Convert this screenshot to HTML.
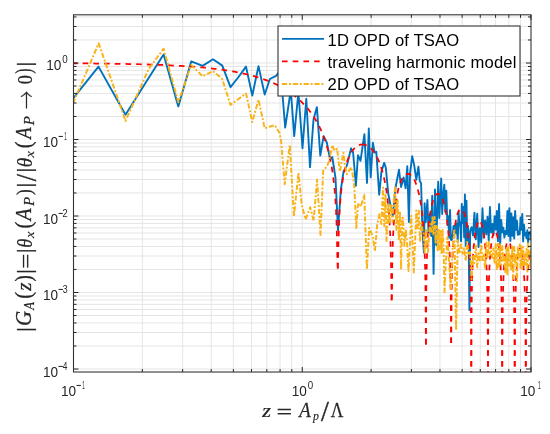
<!DOCTYPE html>
<html><head><meta charset="utf-8"><style>
html,body{margin:0;padding:0;background:#fff;}
svg{display:block;}
.tk{font-family:"Liberation Sans",Arial,sans-serif;font-size:14px;fill:#262626;}
.sp{font-size:10px;}
.lx{font-family:"Liberation Serif","Times New Roman",serif;font-size:20px;fill:#262626;stroke:#262626;stroke-width:0.25px;}
.ar{font-family:"Noto Serif CJK SC",serif;}
.lg{font-family:"Liberation Sans",Arial,sans-serif;font-size:16.6px;letter-spacing:0.15px;fill:#000;}
</style></head><body>
<svg width="550" height="434" viewBox="0 0 550 434">
<defs><clipPath id="c"><rect x="73.5" y="14.8" width="457.5" height="357.2"/></clipPath></defs>
<rect width="550" height="434" fill="#fff"/>
<path d="M142.36 14.8V372M182.64 14.8V372M211.22 14.8V372M233.39 14.8V372M251.5 14.8V372M266.82 14.8V372M280.08 14.8V372M291.78 14.8V372M302.25 14.8V372M371.11 14.8V372M411.39 14.8V372M439.97 14.8V372M462.14 14.8V372M480.25 14.8V372M495.57 14.8V372M508.83 14.8V372M520.53 14.8V372M73.5 369H531M73.5 345.97H531M73.5 332.5H531M73.5 322.94H531M73.5 315.53H531M73.5 309.47H531M73.5 304.35H531M73.5 299.91H531M73.5 296H531M73.5 292.5H531M73.5 269.47H531M73.5 256H531M73.5 246.44H531M73.5 239.03H531M73.5 232.97H531M73.5 227.85H531M73.5 223.41H531M73.5 219.5H531M73.5 216H531M73.5 192.97H531M73.5 179.5H531M73.5 169.94H531M73.5 162.53H531M73.5 156.47H531M73.5 151.35H531M73.5 146.91H531M73.5 143H531M73.5 139.5H531M73.5 116.47H531M73.5 103H531M73.5 93.44H531M73.5 86.03H531M73.5 79.97H531M73.5 74.85H531M73.5 70.41H531M73.5 66.5H531M73.5 63H531M73.5 39.97H531M73.5 26.5H531M73.5 16.94H531" stroke="#e5e5e5" stroke-width="1" fill="none"/>
<g clip-path="url(#c)" fill="none" stroke-linejoin="round">
<path d="M60.3 114.3 L73.5 97.8 L98.5 66.6 L125.5 114.7 L146.1 82 L163.6 54.5 L178.3 106.4 L191.2 61.4 L202.6 65.9 L213 59.3 L222.3 65.6 L230.5 87.2 L238.5 77 L246 66.6 L252.3 95.5 L258.5 66.1 L264.7 94.5 L269.9 79 L276.1 75.9 L280.5 70 L285.2 127.6 L290.8 90 L294.2 136.1 L298.4 92 L302.5 148.3 L306.3 98.8 L310 167.1 L313.5 119.6 L316.9 107.1 L320.3 155.6 L323.6 136.2 L326.8 142.5 L330.2 159.8 L332.3 157 L335.5 178 L338 230.3 L340.8 190 L343.5 171.8 L346.9 165.6 L351.1 148.3 L353.1 152.5 L355.9 185.7 L358 155.2 L360.5 160.8 L364.4 134.1 L367 182.9 L368.8 128.5 L370.7 177.4 L372.9 142.8 L374.6 152.5 L376.3 151.8 L379.2 194.7 L381.4 171.8 L384.2 162.8 L385.8 167.7 L388.3 194 L390.5 205 L392.8 215.8 L395.5 187.8 L399 169.8 L401.1 187 L403.6 177.4 L405.6 188.4 L407.3 166.3 L408.9 222 L410.1 172.8 L412.2 156.2 L414.2 165.2 L416.3 179.8 L418.4 166.6 L419.8 181.1 L421.1 183.2 L422.3 228 L423.9 252.6 L424.6 203.3 L425.8 222 L427.4 200 L428.6 234 L430 213.8 L431.2 236 L432.2 195.7 L433.6 273.9 L435 189.4 L436.2 245 L438.2 181.8 L439.3 218 L440.2 200 L441.2 178.4 L442.2 214 L443.2 195 L444.3 184.6 L445.3 212 L446.3 190.8 L447.4 225 L448.22 216.28 L449.13 237.73 L450.02 210.06 L450.91 239.73 L451.79 240 L452.67 235.14 L453.53 225.89 L454.39 232.01 L455.24 225.12 L456.09 233.44 L456.92 223.28 L457.75 242.15 L458.58 211.42 L459.39 225.34 L460.2 222.39 L461 241.31 L461.8 203.86 L462.59 223.01 L463.37 206.91 L464.15 237.31 L464.92 194.48 L465.69 245.9 L466.45 200.6 L467.2 240.54 L467.95 225.66 L468.69 244.53 L469.43 310 L470.16 230.96 L471.61 227.13 L473.04 235.56 L474.45 212.66 L475.83 239.29 L477.2 213.76 L478.55 247 L479.88 228.28 L481.2 242.49 L482.49 208.32 L483.77 237.69 L485.04 220.45 L486.28 234.49 L487.52 216.69 L488.73 240.71 L489.94 207 L491.12 232.61 L492.3 223.95 L493.46 235.39 L494.61 216.24 L495.74 229.64 L496.86 210.83 L497.97 241.33 L499.07 203.97 L500.15 244.69 L501.22 220.07 L502.28 232.29 L503.33 227.69 L504.37 237.56 L505.4 230.95 L506.42 234.19 L507.43 211.02 L508.42 236.08 L509.41 208.2 L510.39 241.06 L511.36 213.43 L512.32 235.83 L513.27 217.1 L514.21 238.44 L515.14 210.88 L516.06 229.8 L516.98 220.83 L517.88 234.9 L518.78 231.51 L519.67 234.39 L520.55 217.52 L521.43 229.69 L522.29 213.91 L523.15 241.37 L524 224.65 L524.85 235.19 L525.69 233.06 L526.52 238.28 L527.34 230.13 L528.16 243.05 L528.97 232.56 L529.77 233.91 L530.57 231.36 L531.36 240.77" stroke="#0072BD" stroke-width="1.9"/>
<path d="M337.8 268.4 L337.44 262.98 L336.74 227.29 L336.03 210.13 L335.32 198.61 L334.61 189.89 L333.89 182.83 L333.16 176.88 L332.43 171.73 L331.7 167.17 L330.95 163.08 L330.21 159.36 L329.45 155.95 L328.7 152.8 L327.93 149.86 L327.16 147.12 L326.39 144.53 L325.6 142.09 L324.81 139.78 L324.02 137.58 L323.22 135.49 L322.41 133.49 L321.6 131.57 L320.78 129.73 L319.95 127.96 L319.11 126.25 L318.27 124.61 L317.42 123.02 L316.57 121.48 L315.7 120 L314.83 118.56 L313.95 117.16 L313.06 115.81 L312.17 114.49 L311.27 113.21 L310.35 111.96 L309.43 110.75 L308.51 109.57 L307.57 108.42 L306.62 107.29 L305.67 106.2 L304.7 105.13 L303.73 104.09 L302.75 103.07 L301.75 102.07 L300.75 101.09 L299.73 100.14 L298.71 99.21 L297.68 98.3 L296.63 97.41 L295.57 96.53 L294.5 95.68 L293.43 94.84 L292.33 94.02 L291.23 93.22 L290.11 92.43 L288.98 91.66 L287.84 90.9 L286.69 90.16 L285.52 89.44 L284.34 88.72 L283.14 88.03 L281.93 87.34 L280.7 86.67 L279.46 86.01 L278.2 85.37 L276.93 84.74 L275.64 84.12 L274.33 83.51 L273.01 82.91 L271.66 82.33 L270.3 81.76 L268.92 81.19 L267.52 80.64 L266.1 80.1 L264.66 79.57 L263.2 79.05 L261.72 78.54 L260.22 78.05 L258.69 77.56 L257.13 77.08 L255.56 76.61 L253.96 76.15 L252.33 75.7 L250.67 75.26 L248.99 74.82 L247.27 74.4 L245.53 73.99 L243.76 73.58 L241.95 73.19 L240.11 72.8 L238.24 72.42 L236.33 72.05 L234.38 71.69 L232.39 71.33 L230.36 70.99 L228.29 70.65 L226.18 70.32 L224.02 70 L221.81 69.69 L219.55 69.38 L217.24 69.08 L214.88 68.79 L212.46 68.51 L209.97 68.23 L207.42 67.97 L204.81 67.71 L202.12 67.45 L199.36 67.21 L196.53 66.97 L193.6 66.74 L190.59 66.52 L187.49 66.3 L184.28 66.09 L180.97 65.89 L177.55 65.69 L174 65.51 L170.32 65.33 L166.5 65.15 L162.52 64.99 L158.38 64.83 L154.06 64.67 L149.55 64.53 L144.81 64.39 L139.85 64.25 L134.62 64.13 L129.09 64.01 L123.25 63.9 L117.04 63.79 L110.41 63.69 L103.31 63.6 L95.67 63.51 L87.38 63.43 L78.35 63.36 L68.4 63.3 L57.35 63.24 L44.92 63.18 L30.7 63.14 L14.11 63.1 L-5.83 63.07 L-30.79 63.04 L-64.22 63.02 L-114.97 63.01 L-224.11 63" stroke="#FF0000" stroke-width="1.75" stroke-dasharray="5.6 5.1"/>
<path d="M337.8 268.4 L338.82 230 L339.5 213.24 L340.19 202.43 L340.86 194.51 L341.53 188.3 L342.2 183.23 L342.86 178.96 L343.52 175.31 L344.17 172.13 L344.82 169.33 L345.47 166.84 L346.11 164.61 L346.75 162.61 L347.38 160.79 L348.01 159.14 L348.63 157.64 L349.25 156.27 L349.87 155.02 L350.48 153.87 L351.09 152.82 L351.7 151.86 L352.3 150.98 L352.9 150.17 L353.49 149.43 L354.08 148.76 L354.67 148.14 L355.26 147.59 L355.84 147.09 L356.42 146.63 L356.99 146.23 L357.56 145.87 L358.13 145.56 L358.69 145.29 L359.25 145.06 L359.81 144.86 L360.37 144.71 L360.92 144.59 L361.47 144.51 L362.01 144.46 L362.56 144.44" stroke="#FF0000" stroke-width="1.75" stroke-dasharray="5.6 5.1"/>
<path d="M391.64 300.2 L391.07 265.99 L390.66 247.85 L390.25 236.05 L389.84 227.25 L389.43 220.23 L389.02 214.37 L388.6 209.35 L388.18 204.94 L387.76 201.02 L387.34 197.48 L386.92 194.27 L386.5 191.32 L386.07 188.59 L385.64 186.06 L385.21 183.71 L384.78 181.5 L384.35 179.42 L383.91 177.47 L383.47 175.62 L383.03 173.87 L382.59 172.21 L382.15 170.64 L381.7 169.14 L381.25 167.71 L380.8 166.34 L380.35 165.04 L379.9 163.8 L379.44 162.61 L378.99 161.48 L378.53 160.39 L378.06 159.35 L377.6 158.36 L377.13 157.41 L376.66 156.5 L376.19 155.63 L375.72 154.8 L375.25 154 L374.77 153.25 L374.29 152.52 L373.81 151.83 L373.32 151.18 L372.83 150.55 L372.34 149.96 L371.85 149.4 L371.36 148.87 L370.86 148.38 L370.36 147.91 L369.86 147.47 L369.36 147.06 L368.85 146.68 L368.34 146.33 L367.83 146.01 L367.31 145.72 L366.8 145.46 L366.28 145.22 L365.75 145.02 L365.23 144.85 L364.7 144.71 L364.17 144.59 L363.63 144.51 L363.1 144.46 L362.56 144.44" stroke="#FF0000" stroke-width="1.75" stroke-dasharray="5.6 5.1"/>
<path d="M391.64 300.2 L391.88 294.86 L392.28 262.47 L392.68 246.61 L393.08 236.09 L393.48 228.25 L393.87 222.03 L394.27 216.9 L394.66 212.55 L395.05 208.79 L395.44 205.49 L395.83 202.57 L396.22 199.95 L396.6 197.59 L396.98 195.45 L397.37 193.49 L397.75 191.71 L398.13 190.07 L398.5 188.57 L398.88 187.18 L399.25 185.9 L399.63 184.71 L400 183.62 L400.37 182.6 L400.74 181.66 L401.11 180.8 L401.47 180 L401.84 179.26 L402.2 178.58 L402.57 177.95 L402.93 177.38 L403.29 176.85 L403.65 176.38 L404 175.95 L404.36 175.56 L404.71 175.22 L405.07 174.91 L405.42 174.65 L405.77 174.42 L406.12 174.23 L406.47 174.08 L406.82 173.96 L407.16 173.88 L407.51 173.83 L407.85 173.81" stroke="#FF0000" stroke-width="1.75" stroke-dasharray="5.6 5.1"/>
<path d="M425.88 344.4 L425.71 317.84 L425.42 284.68 L425.13 268.29 L424.84 257.28 L424.55 248.97 L424.26 242.28 L423.97 236.68 L423.68 231.87 L423.39 227.64 L423.09 223.89 L422.8 220.5 L422.5 217.43 L422.21 214.61 L421.91 212.01 L421.61 209.61 L421.31 207.37 L421.01 205.28 L420.71 203.32 L420.41 201.48 L420.1 199.75 L419.8 198.11 L419.5 196.56 L419.19 195.1 L418.88 193.71 L418.58 192.4 L418.27 191.14 L417.96 189.96 L417.65 188.83 L417.34 187.75 L417.02 186.73 L416.71 185.76 L416.4 184.84 L416.08 183.96 L415.76 183.13 L415.45 182.34 L415.13 181.59 L414.81 180.88 L414.49 180.21 L414.17 179.57 L413.84 178.97 L413.52 178.41 L413.2 177.88 L412.87 177.38 L412.54 176.92 L412.22 176.49 L411.89 176.1 L411.56 175.73 L411.23 175.4 L410.89 175.1 L410.56 174.83 L410.23 174.59 L409.89 174.39 L409.55 174.21 L409.22 174.07 L408.88 173.96 L408.54 173.87 L408.19 173.83 L407.85 173.81" stroke="#FF0000" stroke-width="1.75" stroke-dasharray="5.6 5.1"/>
<path d="M425.88 344.4 L426.28 289.2 L426.56 271.61 L426.85 260.31 L427.13 252 L427.41 245.45 L427.69 240.07 L427.97 235.51 L428.25 231.58 L428.53 228.13 L428.81 225.07 L429.09 222.33 L429.37 219.85 L429.64 217.6 L429.92 215.55 L430.19 213.66 L430.47 211.93 L430.74 210.33 L431.01 208.86 L431.28 207.49 L431.55 206.22 L431.82 205.05 L432.09 203.95 L432.36 202.94 L432.63 201.99 L432.9 201.12 L433.16 200.31 L433.43 199.55 L433.69 198.86 L433.96 198.21 L434.22 197.62 L434.48 197.08 L434.74 196.58 L435.01 196.13 L435.27 195.72 L435.53 195.35 L435.79 195.02 L436.05 194.73 L436.3 194.48 L436.56 194.27 L436.82 194.09 L437.07 193.95 L437.33 193.84 L437.58 193.76 L437.84 193.72 L438.09 193.71" stroke="#FF0000" stroke-width="1.75" stroke-dasharray="5.6 5.1"/>
<path d="M451.17 343 L450.9 309.88 L450.67 290.11 L450.45 277.73 L450.23 268.69 L450 261.56 L449.78 255.67 L449.55 250.65 L449.33 246.28 L449.1 242.42 L448.87 238.96 L448.65 235.83 L448.42 232.98 L448.19 230.36 L447.96 227.93 L447.73 225.69 L447.5 223.6 L447.27 221.64 L447.04 219.81 L446.81 218.09 L446.58 216.47 L446.34 214.94 L446.11 213.5 L445.88 212.14 L445.64 210.85 L445.41 209.63 L445.17 208.47 L444.94 207.37 L444.7 206.33 L444.46 205.35 L444.23 204.41 L443.99 203.53 L443.75 202.69 L443.51 201.89 L443.27 201.14 L443.03 200.43 L442.79 199.77 L442.55 199.14 L442.3 198.55 L442.06 197.99 L441.82 197.47 L441.57 196.99 L441.33 196.54 L441.08 196.13 L440.84 195.75 L440.59 195.4 L440.34 195.09 L440.1 194.81 L439.85 194.56 L439.6 194.34 L439.35 194.16 L439.1 194 L438.85 193.88 L438.6 193.79 L438.34 193.74 L438.09 193.71" stroke="#FF0000" stroke-width="1.75" stroke-dasharray="5.6 5.1"/>
<path d="M451.17 343 L451.34 326.49 L451.56 298.73 L451.78 283.95 L452 273.86 L452.22 266.22 L452.44 260.08 L452.66 254.98 L452.88 250.62 L453.1 246.83 L453.31 243.48 L453.53 240.5 L453.75 237.81 L453.96 235.38 L454.18 233.16 L454.39 231.13 L454.61 229.27 L454.82 227.54 L455.04 225.95 L455.25 224.48 L455.46 223.11 L455.67 221.83 L455.89 220.65 L456.1 219.55 L456.31 218.52 L456.52 217.57 L456.73 216.68 L456.94 215.85 L457.15 215.08 L457.36 214.37 L457.57 213.71 L457.77 213.1 L457.98 212.54 L458.19 212.02 L458.39 211.55 L458.6 211.12 L458.81 210.73 L459.01 210.38 L459.22 210.07 L459.42 209.8 L459.62 209.57 L459.83 209.37 L460.03 209.21 L460.23 209.08 L460.44 208.98 L460.64 208.92 L460.84 208.89" stroke="#FF0000" stroke-width="1.75" stroke-dasharray="5.6 5.1"/>
<path d="M471.27 420 L471.16 344.69 L470.97 313.74 L470.79 297.93 L470.61 287.22 L470.43 279.1 L470.24 272.57 L470.06 267.11 L469.88 262.41 L469.69 258.29 L469.51 254.64 L469.32 251.35 L469.14 248.37 L468.95 245.64 L468.77 243.14 L468.58 240.82 L468.4 238.67 L468.21 236.66 L468.02 234.79 L467.83 233.04 L467.65 231.39 L467.46 229.84 L467.27 228.38 L467.08 227 L466.89 225.7 L466.7 224.47 L466.51 223.31 L466.32 222.21 L466.13 221.16 L465.94 220.18 L465.75 219.25 L465.56 218.37 L465.36 217.53 L465.17 216.74 L464.98 216 L464.79 215.3 L464.59 214.64 L464.4 214.03 L464.2 213.45 L464.01 212.9 L463.81 212.4 L463.62 211.93 L463.42 211.5 L463.23 211.1 L463.03 210.73 L462.83 210.4 L462.63 210.11 L462.44 209.84 L462.24 209.61 L462.04 209.41 L461.84 209.24 L461.64 209.11 L461.44 209.01 L461.24 208.94 L461.04 208.9 L460.84 208.89" stroke="#FF0000" stroke-width="1.75" stroke-dasharray="5.6 5.1"/>
<path d="M471.27 420 L471.52 320.93 L471.7 302.62 L471.88 290.98 L472.06 282.45 L472.24 275.74 L472.42 270.23 L472.6 265.56 L472.78 261.53 L472.95 257.99 L473.13 254.83 L473.31 252.01 L473.49 249.45 L473.66 247.12 L473.84 244.99 L474.02 243.03 L474.19 241.23 L474.37 239.56 L474.54 238.01 L474.72 236.58 L474.89 235.24 L475.07 234 L475.24 232.84 L475.42 231.76 L475.59 230.75 L475.76 229.81 L475.94 228.93 L476.11 228.12 L476.28 227.36 L476.46 226.65 L476.63 226 L476.8 225.4 L476.97 224.84 L477.14 224.33 L477.31 223.86 L477.48 223.43 L477.65 223.04 L477.82 222.7 L477.99 222.39 L478.16 222.12 L478.33 221.88 L478.5 221.68 L478.67 221.52 L478.83 221.39 L479 221.29 L479.17 221.23 L479.34 221.2" stroke="#FF0000" stroke-width="1.75" stroke-dasharray="5.6 5.1"/>
<path d="M487.97 420 L487.82 343.8 L487.67 319.61 L487.51 305.72 L487.36 295.92 L487.21 288.35 L487.05 282.18 L486.9 276.98 L486.74 272.48 L486.59 268.53 L486.43 265 L486.27 261.83 L486.12 258.94 L485.96 256.3 L485.81 253.87 L485.65 251.63 L485.49 249.54 L485.34 247.6 L485.18 245.78 L485.02 244.08 L484.86 242.48 L484.7 240.97 L484.55 239.56 L484.39 238.22 L484.23 236.96 L484.07 235.77 L483.91 234.65 L483.75 233.59 L483.59 232.59 L483.43 231.64 L483.27 230.74 L483.11 229.89 L482.95 229.1 L482.79 228.34 L482.62 227.64 L482.46 226.97 L482.3 226.34 L482.14 225.76 L481.98 225.21 L481.81 224.71 L481.65 224.23 L481.49 223.8 L481.32 223.4 L481.16 223.03 L480.99 222.7 L480.83 222.4 L480.67 222.14 L480.5 221.91 L480.33 221.71 L480.17 221.54 L480 221.41 L479.84 221.31 L479.67 221.24 L479.5 221.2 L479.34 221.2" stroke="#FF0000" stroke-width="1.75" stroke-dasharray="5.6 5.1"/>
<path d="M487.97 420 L488.13 339.93 L488.28 317.99 L488.43 304.98 L488.59 295.73 L488.74 288.57 L488.89 282.74 L489.04 277.84 L489.19 273.62 L489.34 269.93 L489.49 266.66 L489.65 263.73 L489.8 261.08 L489.95 258.67 L490.1 256.47 L490.25 254.45 L490.4 252.59 L490.55 250.86 L490.69 249.27 L490.84 247.78 L490.99 246.4 L491.14 245.11 L491.29 243.91 L491.44 242.79 L491.58 241.75 L491.73 240.77 L491.88 239.86 L492.03 239.01 L492.17 238.22 L492.32 237.49 L492.47 236.8 L492.61 236.17 L492.76 235.58 L492.91 235.04 L493.05 234.54 L493.2 234.09 L493.34 233.67 L493.49 233.3 L493.63 232.96 L493.78 232.67 L493.92 232.41 L494.06 232.18 L494.21 231.99 L494.35 231.84 L494.5 231.71 L494.64 231.63 L494.78 231.57 L494.93 231.55" stroke="#FF0000" stroke-width="1.75" stroke-dasharray="5.6 5.1"/>
<path d="M502.24 420 L502.09 346.66 L501.96 325.77 L501.82 313.01 L501.69 303.79 L501.56 296.58 L501.42 290.65 L501.29 285.63 L501.15 281.27 L501.02 277.43 L500.89 274 L500.75 270.9 L500.62 268.08 L500.48 265.5 L500.35 263.13 L500.21 260.93 L500.07 258.89 L499.94 256.99 L499.8 255.21 L499.67 253.54 L499.53 251.98 L499.39 250.51 L499.26 249.13 L499.12 247.83 L498.98 246.6 L498.85 245.44 L498.71 244.34 L498.57 243.31 L498.43 242.33 L498.3 241.41 L498.16 240.54 L498.02 239.72 L497.88 238.94 L497.74 238.22 L497.6 237.53 L497.46 236.89 L497.32 236.29 L497.19 235.73 L497.05 235.21 L496.91 234.72 L496.77 234.28 L496.62 233.86 L496.48 233.49 L496.34 233.15 L496.2 232.84 L496.06 232.56 L495.92 232.32 L495.78 232.11 L495.64 231.94 L495.5 231.8 L495.35 231.69 L495.21 231.61 L495.07 231.57 L494.93 231.55" stroke="#FF0000" stroke-width="1.75" stroke-dasharray="5.6 5.1"/>
<path d="M502.24 420 L502.35 356.71 L502.49 331.02 L502.62 316.8 L502.75 306.94 L502.88 299.41 L503.01 293.33 L503.15 288.25 L503.28 283.89 L503.41 280.08 L503.54 276.72 L503.67 273.71 L503.8 270.99 L503.93 268.52 L504.06 266.27 L504.19 264.2 L504.32 262.29 L504.45 260.53 L504.58 258.89 L504.71 257.37 L504.84 255.96 L504.97 254.64 L505.1 253.41 L505.23 252.26 L505.36 251.19 L505.49 250.19 L505.61 249.25 L505.74 248.37 L505.87 247.56 L506 246.8 L506.13 246.09 L506.25 245.44 L506.38 244.83 L506.51 244.26 L506.63 243.75 L506.76 243.27 L506.89 242.84 L507.01 242.44 L507.14 242.09 L507.27 241.77 L507.39 241.49 L507.52 241.24 L507.65 241.04 L507.77 240.86 L507.9 240.72 L508.02 240.62 L508.15 240.55 L508.27 240.51 L508.4 240.5" stroke="#FF0000" stroke-width="1.75" stroke-dasharray="5.6 5.1"/>
<path d="M514.71 420 L514.56 350.68 L514.44 331.74 L514.33 319.73 L514.21 310.91 L514.09 303.95 L513.97 298.2 L513.86 293.3 L513.74 289.05 L513.62 285.29 L513.5 281.93 L513.38 278.89 L513.26 276.13 L513.15 273.59 L513.03 271.26 L512.91 269.1 L512.79 267.09 L512.67 265.22 L512.55 263.47 L512.43 261.83 L512.31 260.3 L512.19 258.85 L512.07 257.5 L511.95 256.22 L511.83 255.01 L511.71 253.87 L511.59 252.8 L511.47 251.78 L511.35 250.83 L511.22 249.93 L511.1 249.07 L510.98 248.27 L510.86 247.52 L510.74 246.81 L510.62 246.15 L510.49 245.52 L510.37 244.94 L510.25 244.4 L510.13 243.89 L510 243.43 L509.88 243 L509.76 242.6 L509.64 242.24 L509.51 241.92 L509.39 241.63 L509.27 241.37 L509.14 241.15 L509.02 240.96 L508.89 240.8 L508.77 240.68 L508.65 240.59 L508.52 240.53 L508.4 240.5" stroke="#FF0000" stroke-width="1.75" stroke-dasharray="5.6 5.1"/>
<path d="M514.71 420 L514.8 371.9 L514.91 342.32 L515.03 327 L515.15 316.62 L515.26 308.78 L515.38 302.5 L515.5 297.27 L515.61 292.8 L515.73 288.91 L515.84 285.47 L515.96 282.39 L516.07 279.62 L516.19 277.11 L516.3 274.81 L516.42 272.7 L516.53 270.76 L516.65 268.97 L516.76 267.3 L516.88 265.75 L516.99 264.31 L517.11 262.97 L517.22 261.72 L517.34 260.55 L517.45 259.45 L517.56 258.43 L517.68 257.47 L517.79 256.58 L517.9 255.75 L518.02 254.97 L518.13 254.24 L518.24 253.57 L518.36 252.94 L518.47 252.36 L518.58 251.83 L518.69 251.34 L518.81 250.89 L518.92 250.48 L519.03 250.11 L519.14 249.77 L519.26 249.48 L519.37 249.22 L519.48 249 L519.59 248.81 L519.7 248.65 L519.81 248.53 L519.92 248.45 L520.04 248.4 L520.15 248.38" stroke="#FF0000" stroke-width="1.75" stroke-dasharray="5.6 5.1"/>
<path d="M525.79 420 L525.64 355.03 L525.54 337.39 L525.43 325.92 L525.33 317.39 L525.22 310.62 L525.12 305 L525.01 300.2 L524.91 296.03 L524.8 292.33 L524.69 289.02 L524.59 286.03 L524.48 283.3 L524.38 280.81 L524.27 278.5 L524.16 276.37 L524.06 274.39 L523.95 272.55 L523.84 270.82 L523.74 269.21 L523.63 267.69 L523.52 266.27 L523.42 264.93 L523.31 263.66 L523.2 262.48 L523.09 261.36 L522.99 260.3 L522.88 259.3 L522.77 258.36 L522.66 257.47 L522.55 256.64 L522.45 255.85 L522.34 255.11 L522.23 254.42 L522.12 253.77 L522.01 253.16 L521.9 252.59 L521.79 252.07 L521.69 251.58 L521.58 251.12 L521.47 250.71 L521.36 250.33 L521.25 249.98 L521.14 249.67 L521.03 249.39 L520.92 249.15 L520.81 248.94 L520.7 248.77 L520.59 248.62 L520.48 248.51 L520.37 248.43 L520.26 248.39 L520.15 248.38" stroke="#FF0000" stroke-width="1.75" stroke-dasharray="5.6 5.1"/>
<path d="M525.79 420 L525.85 385.94 L525.96 352.26 L526.06 335.96 L526.17 325.13 L526.27 317.04 L526.37 310.58 L526.48 305.23 L526.58 300.67 L526.69 296.7 L526.79 293.2 L526.89 290.08 L527 287.27 L527.1 284.72 L527.2 282.39 L527.31 280.25 L527.41 278.28 L527.51 276.46 L527.61 274.77 L527.72 273.2 L527.82 271.74 L527.92 270.37 L528.03 269.1 L528.13 267.91 L528.23 266.8 L528.33 265.76 L528.43 264.79 L528.54 263.88 L528.64 263.03 L528.74 262.24 L528.84 261.5 L528.94 260.81 L529.04 260.17 L529.14 259.58 L529.25 259.03 L529.35 258.53 L529.45 258.07 L529.55 257.65 L529.65 257.26 L529.75 256.92 L529.85 256.61 L529.95 256.34 L530.05 256.11 L530.15 255.91 L530.25 255.74 L530.35 255.61 L530.45 255.51 L530.55 255.45 L530.65 255.42" stroke="#FF0000" stroke-width="1.75" stroke-dasharray="5.6 5.1"/>
<path d="M530.65 255.42 L530.75 255.42 L530.85 255.45 L530.95 255.52 L531.05 255.62 L531.15 255.75" stroke="#FF0000" stroke-width="1.75" stroke-dasharray="5.6 5.1"/>
<path d="M60.3 133.2 L73.5 102.3 L98.7 43.3 L125.5 121 L148.7 69 L163.6 48.7 L178.3 102.2 L191.2 64.9 L202.6 76.3 L213 71.1 L222.2 79 L230.5 104.9 L238.5 99 L246 93.5 L252.3 122 L258.5 99.7 L264.7 128.3 L270 126.5 L274.8 125.2 L279.4 132.7 L281.1 140.7 L284.7 184.2 L289.8 144.8 L293.9 216.5 L298.5 172.7 L301.7 205 L305.6 219.5 L310.2 207.2 L313.6 220.5 L317.1 179.6 L320.5 235 L323.2 170.3 L326.8 166.7 L328.8 161.8 L332.3 145.2 L334.4 150.8 L337.1 148.7 L339.9 171.5 L343.4 152.8 L344.8 164.6 L346.8 174.3 L351.2 167.2 L353.1 177 L354.4 188 L356.3 228 L358 204.6 L359.4 203.2 L360.8 206.7 L364.2 194.9 L366.9 269.5 L369.2 228 L372.6 236.1 L374.9 251.1 L377.2 224.6 L379.4 214.3 L380.5 220 L381.4 224 L383 187.5 L384.2 226 L385.5 195 L386.5 241 L388.2 203 L389.5 224 L391 205 L392.5 222 L393.8 200 L395.1 187.5 L396.4 230 L397.6 200 L398.8 240 L400 211.6 L401.1 269.7 L402.2 218 L402.92 217.99 L404.34 245.96 L405.75 229.68 L407.13 245.02 L408.5 271 L409.84 246.04 L411.17 215.84 L412.49 240.19 L413.78 272.5 L415.06 242.67 L416.32 210.53 L417.57 228.37 L418.8 210.6 L420.01 241.82 L421.21 223.07 L422.4 230.26 L423.57 231.22 L424.73 253.76 L425.88 228.61 L427.01 246.19 L428.13 252 L429.24 232 L430.33 223.96 L431.41 231.84 L432.49 217.33 L433.55 235.78 L434.59 216.95 L435.63 242.55 L436.66 225.89 L437.68 251.82 L438.68 229.68 L439.68 249.09 L440.66 231.04 L441.64 253.05 L442.61 229.88 L443.57 246.69 L444.51 292.2 L445.45 270.05 L447.31 237.11 L449.13 262.6 L450.91 289 L452.67 248.09 L454.39 228.81 L456.09 330.1 L457.75 240.34 L459.39 253.65 L461 244.44 L462.59 253.89 L464.15 248.37 L465.69 260.85 L467.2 241.89 L468.69 255.07 L470.16 252.22 L471.61 279 L473.04 254.97 L474.45 263.01 L475.83 245.58 L477.2 267.39 L478.55 253.22 L479.88 260.58 L481.2 244.02 L482.49 261.39 L483.77 254.39 L485.04 269.3 L486.28 242.78 L487.52 259 L488.73 241.78 L489.94 254.83 L491.12 251.12 L492.3 257.76 L493.46 248.48 L494.61 263.75 L495.74 244.09 L496.86 269.98 L497.97 243.88 L499.07 268.67 L500.15 244.26 L501.22 264.69 L502.28 246.1 L503.33 262.16 L504.37 256.67 L505.4 273.2 L506.42 248.06 L507.43 275.29 L508.42 246.85 L509.41 265.71 L510.39 255.74 L511.36 271.16 L512.32 245.4 L513.27 278.84 L514.21 247.01 L515.14 263.72 L516.06 255.05 L516.98 281 L517.88 247.99 L518.78 259.25 L519.67 244.51 L520.55 269.21 L521.43 246.11 L522.29 268.72 L523.15 247.33 L524 264.84 L524.85 254.71 L525.69 264.65 L526.52 248.93 L527.34 271.44 L528.16 243.21 L528.97 256.63 L529.77 252.11 L530.57 268.73 L531.36 243.19" stroke="#F9B318" stroke-width="1.95" stroke-dasharray="5.2 1.8 2 1.8"/>
</g>
<path d="M73.5 372v-5M73.5 14.8v5M142.36 372v-3M142.36 14.8v3M182.64 372v-3M182.64 14.8v3M211.22 372v-3M211.22 14.8v3M233.39 372v-3M233.39 14.8v3M251.5 372v-3M251.5 14.8v3M266.82 372v-3M266.82 14.8v3M280.08 372v-3M280.08 14.8v3M291.78 372v-3M291.78 14.8v3M302.25 372v-5M302.25 14.8v5M371.11 372v-3M371.11 14.8v3M411.39 372v-3M411.39 14.8v3M439.97 372v-3M439.97 14.8v3M462.14 372v-3M462.14 14.8v3M480.25 372v-3M480.25 14.8v3M495.57 372v-3M495.57 14.8v3M508.83 372v-3M508.83 14.8v3M520.53 372v-3M520.53 14.8v3M531 372v-5M531 14.8v5M73.5 369h5M531 369h-5M73.5 345.97h3M531 345.97h-3M73.5 332.5h3M531 332.5h-3M73.5 322.94h3M531 322.94h-3M73.5 315.53h3M531 315.53h-3M73.5 309.47h3M531 309.47h-3M73.5 304.35h3M531 304.35h-3M73.5 299.91h3M531 299.91h-3M73.5 296h3M531 296h-3M73.5 292.5h5M531 292.5h-5M73.5 269.47h3M531 269.47h-3M73.5 256h3M531 256h-3M73.5 246.44h3M531 246.44h-3M73.5 239.03h3M531 239.03h-3M73.5 232.97h3M531 232.97h-3M73.5 227.85h3M531 227.85h-3M73.5 223.41h3M531 223.41h-3M73.5 219.5h3M531 219.5h-3M73.5 216h5M531 216h-5M73.5 192.97h3M531 192.97h-3M73.5 179.5h3M531 179.5h-3M73.5 169.94h3M531 169.94h-3M73.5 162.53h3M531 162.53h-3M73.5 156.47h3M531 156.47h-3M73.5 151.35h3M531 151.35h-3M73.5 146.91h3M531 146.91h-3M73.5 143h3M531 143h-3M73.5 139.5h5M531 139.5h-5M73.5 116.47h3M531 116.47h-3M73.5 103h3M531 103h-3M73.5 93.44h3M531 93.44h-3M73.5 86.03h3M531 86.03h-3M73.5 79.97h3M531 79.97h-3M73.5 74.85h3M531 74.85h-3M73.5 70.41h3M531 70.41h-3M73.5 66.5h3M531 66.5h-3M73.5 63h5M531 63h-5M73.5 39.97h3M531 39.97h-3M73.5 26.5h3M531 26.5h-3M73.5 16.94h3M531 16.94h-3" stroke="#262626" stroke-width="1" fill="none"/>
<rect x="73.5" y="14.8" width="457.5" height="357.2" fill="none" stroke="#333" stroke-width="1.1"/>
<text class="tk" transform="matrix(0.971 0 0 1.026 46.28 70.356)">10</text>
<text class="tk" style="font-size:10px" transform="matrix(0.979 0 0 1.042 62.308 63.196)">0</text>
<text class="tk" transform="matrix(0.971 0 0 1.026 42.88 147.056)">10</text>
<text class="tk" style="font-size:10px" transform="matrix(0.887 0 0 1.429 57.957 141.086)">−</text>
<text class="tk" style="font-size:10px" transform="matrix(0.46 0 0 1.014 64.155 139.8)">1</text>
<text class="tk" transform="matrix(0.971 0 0 1.026 42.88 223.556)">10</text>
<text class="tk" style="font-size:10px" transform="matrix(0.887 0 0 1.429 57.957 217.586)">−</text>
<text class="tk" style="font-size:10px" transform="matrix(0.923 0 0 1.029 62.538 216.5)">2</text>
<text class="tk" transform="matrix(0.971 0 0 1.026 42.88 300.056)">10</text>
<text class="tk" style="font-size:10px" transform="matrix(0.887 0 0 1.429 57.957 294.086)">−</text>
<text class="tk" style="font-size:10px" transform="matrix(0.884 0 0 1.014 62.646 292.899)">3</text>
<text class="tk" transform="matrix(0.971 0 0 1.026 42.88 376.556)">10</text>
<text class="tk" style="font-size:10px" transform="matrix(0.887 0 0 1.429 57.957 370.586)">−</text>
<text class="tk" style="font-size:10px" transform="matrix(0.832 0 0 1.043 62.834 369.5)">4</text>
<text class="tk" transform="matrix(0.971 0 0 1.026 60.98 396.056)">10</text>
<text class="tk" style="font-size:10px" transform="matrix(0.887 0 0 1.429 76.057 390.086)">−</text>
<text class="tk" style="font-size:10px" transform="matrix(0.46 0 0 1.014 82.255 388.8)">1</text>
<text class="tk" transform="matrix(0.971 0 0 1.026 291.78 396.056)">10</text>
<text class="tk" style="font-size:10px" transform="matrix(0.979 0 0 1.042 307.808 388.896)">0</text>
<text class="tk" transform="matrix(0.971 0 0 1.026 520.18 396.056)">10</text>
<text class="tk" style="font-size:10px" transform="matrix(0.506 0 0 1.072 537.921 389)">1</text>
<text class="lx" font-style="italic" transform="matrix(1.13 0 0 0.946 262.226 417.1)">z</text>
<text class="lx" transform="matrix(1.387 0 0 1 276.613 419.1)">=</text>
<text class="lx" font-style="italic" transform="matrix(0.94 0 0 1.045 299.234 417)">A</text>
<text class="lx" font-style="italic" transform="matrix(0.594 0 0 0.635 313.013 419.769)">p</text>
<text class="lx" transform="matrix(1.418 0 0 1.448 321.1 421.31)">/</text>
<text class="lx" transform="matrix(0.872 0 0 1.045 330.626 417)">Λ</text>
<g transform="rotate(-90)">
<text class="lx" transform="matrix(1.1 0 0 1.066 -331.8 31.216)">|</text>
<text class="lx" font-style="italic" transform="matrix(1.047 0 0 1.112 -326.051 31.478)">G</text>
<text class="lx" font-style="italic" transform="matrix(0.627 0 0 0.75 -309.71 34.4)">A</text>
<text class="lx" transform="matrix(1.02 0 0 1.11 -298.718 31.427)">(</text>
<text class="lx" font-style="italic" transform="matrix(1.052 0 0 1.022 -290.79 31.4)">z</text>
<text class="lx" transform="matrix(0.942 0 0 1.11 -281.465 31.427)">)</text>
<text class="lx" transform="matrix(1.1 0 0 1.066 -273.7 31.216)">|</text>
<text class="lx" transform="matrix(1.344 0 0 1 -268.844 32.7)">=</text>
<text class="lx" transform="matrix(1.1 0 0 1.066 -253.1 31.216)">|</text>
<text class="lx" font-style="italic" transform="matrix(0.917 0 0 1.056 -247.817 31.589)">θ</text>
<text class="lx" font-style="italic" transform="matrix(0.722 0 0 0.663 -237.883 34.2)">x</text>
<text class="lx" transform="matrix(1.02 0 0 1.11 -228.518 31.427)">(</text>
<text class="lx" font-style="italic" transform="matrix(0.993 0 0 1.106 -220.408 31.4)">A</text>
<text class="lx" font-style="italic" transform="matrix(0.72 0 0 0.771 -205.828 34.2)">P</text>
<text class="lx" transform="matrix(0.846 0 0 1.099 -195.108 31.275)">)</text>
<text class="lx" transform="matrix(1.1 0 0 1.066 -187.5 31.216)">|</text>
<text class="lx" transform="matrix(1.327 0 0 1.448 -181.3 35.51)">/</text>
<text class="lx" transform="matrix(1.1 0 0 1.066 -172.5 31.216)">|</text>
<text class="lx" font-style="italic" transform="matrix(0.952 0 0 1.056 -167.152 31.589)">θ</text>
<text class="lx" font-style="italic" transform="matrix(0.722 0 0 0.663 -157.583 34.2)">x</text>
<text class="lx" transform="matrix(1.02 0 0 1.11 -148.218 31.427)">(</text>
<text class="lx" font-style="italic" transform="matrix(0.933 0 0 1.106 -138.874 31.4)">A</text>
<text class="lx" font-style="italic" transform="matrix(0.754 0 0 0.771 -125.325 34.2)">P</text>
<text class="lx ar" style="font-size:20px" transform="matrix(0.897 0 0 1.094 -108.918 34.462)">→</text>
<text class="lx" transform="matrix(0.917 0 0 1.022 -84.133 31.596)">0</text>
<text class="lx" transform="matrix(0.769 0 0 1.11 -73.762 31.427)">)</text>
<text class="lx" transform="matrix(1.1 0 0 1.066 -66.4 31.216)">|</text>
</g>
<rect x="278" y="26" width="242" height="70" fill="#ffffff" stroke="#333" stroke-width="1.1"/>
<path d="M282 38.9H324" stroke="#0072BD" stroke-width="1.9"/>
<path d="M282 61.3H324" stroke="#FF0000" stroke-width="1.75" stroke-dasharray="5.6 5.1"/>
<path d="M282 84H324" stroke="#F9B318" stroke-width="1.95" stroke-dasharray="5.2 1.8 2 1.8"/>
<text x="327.5" y="45.6" class="lg">1D OPD of TSAO</text>
<text x="327.5" y="67.7" class="lg">traveling harmonic model</text>
<text x="327.5" y="89.8" class="lg">2D OPD of TSAO</text>
</svg>
</body></html>
